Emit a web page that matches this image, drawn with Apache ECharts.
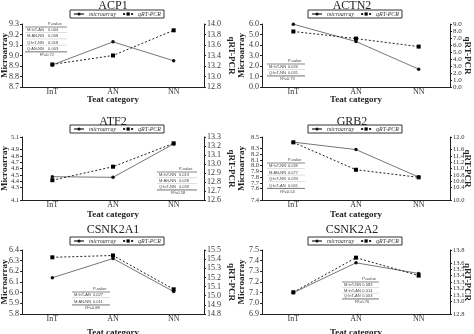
<!DOCTYPE html>
<html>
<head>
<meta charset="utf-8">
<script src="https://cdn.jsdelivr.net/npm/echarts@6/dist/echarts.min.js"></script>
<style>
  html, body { margin: 0; padding: 0; background: #fff; }
  #chart { width: 474px; height: 334px; }
</style>
</head>
<body>
<div id="chart"></div>
<script>
// Teat categories along the x axis
const categories = ['InT', 'AN', 'NN'];

// Expression values: microarray (left axis) and qRT-PCR (right axis)
const acp1Micro = [8.91, 9.13, 8.95];
const acp1Qpcr = [13.23, 13.40, 13.88];
const actn2Micro = [5.98, 4.33, 1.70];
const actn2Qpcr = [7.93, 6.92, 5.77];
const atf2Micro = [4.47, 4.46, 4.99];
const atf2Qpcr = [12.82, 12.97, 13.23];
const grb2Micro = [8.41, 8.28, 7.80];
const grb2Qpcr = [11.83, 10.96, 10.72];
const csnk2a1Micro = [6.14, 6.32, 6.01];
const csnk2a1Qpcr = [15.42, 15.44, 15.07];
const csnk2a2Micro = [7.10, 7.38, 7.28];
const csnk2a2Qpcr = [13.14, 13.68, 13.40];

// Axis ticks: [min, max, step]
const acp1LeftTicks = [8.7, 9.3, 0.1];
const acp1RightTicks = [12.8, 14.0, 0.2];
const actn2LeftTicks = [0, 6, 1];
const actn2RightTicks = [0, 9, 1];
const atf2LeftTicks = [4.1, 5.1, 0.1];
const atf2RightTicks = [12.6, 13.3, 0.1];
const grb2LeftTicks = [7.4, 8.5, 0.1];
const grb2RightTicks = [10.0, 12.0, 0.2];
const csnk2a1LeftTicks = [5.8, 6.4, 0.1];
const csnk2a1RightTicks = [14.8, 15.5, 0.1];
const csnk2a2LeftTicks = [6.9, 7.5, 0.1];
const csnk2a2RightTicks = [12.8, 13.8, 0.1];

// Pairwise test P-values and correlation for each gene
const acp1Stats = [['M:InT-AN', '0.004'], ['M:AN-NN', '0.008'], ['Q:InT-NN', '0.018'], ['Q:AN-NN', '0.003']];
const actn2Stats = [['M:InT-NN', '0.020'], ['Q:InT-NN', '0.031']];
const atf2Stats = [['M:InT-NN', '0.013'], ['M:AN-NN', '0.028'], ['Q:InT-NN', '0.033']];
const grb2Stats = [['M:InT-NN', '0.039'], ['M:AN-NN', '0.077'], ['Q:InT-NN', '0.033'], ['Q:InT-AN', '0.061']];
const csnk2a1Stats = [['M:InT-AN', '0.027'], ['M:AN-NN', '0.011']];
const csnk2a2Stats = [['M:InT-NN', '0.083'], ['M:InT-AN', '0.014'], ['Q:InT-AN', '0.003']];
const r2Labels = ['R²=0.72', 'R²=0.73', 'R²=0.58', 'R²=0.54', 'R²=0.88', 'R²=0.76'];

const genes = ['ACP1', 'ACTN2', 'ATF2', 'GRB2', 'CSNK2A1', 'CSNK2A2'];
const microSets = [acp1Micro, actn2Micro, atf2Micro, grb2Micro, csnk2a1Micro, csnk2a2Micro];
const qpcrSets = [acp1Qpcr, actn2Qpcr, atf2Qpcr, grb2Qpcr, csnk2a1Qpcr, csnk2a2Qpcr];
const leftTickSets = [acp1LeftTicks, actn2LeftTicks, atf2LeftTicks, grb2LeftTicks, csnk2a1LeftTicks, csnk2a2LeftTicks];
const rightTickSets = [acp1RightTicks, actn2RightTicks, atf2RightTicks, grb2RightTicks, csnk2a1RightTicks, csnk2a2RightTicks];
const statSets = [acp1Stats, actn2Stats, atf2Stats, grb2Stats, csnk2a1Stats, csnk2a2Stats];

// ---- layout ----
const SERIF = '"Liberation Serif", "DejaVu Serif", serif';
const colLayout = [
  { left: 22, width: 182, titleX: 113, legendX: 70, yNameGap: 13, rNameGap: 23 },
  { left: 262, width: 188, titleX: 352, legendX: 308, yNameGap: 16, rNameGap: 13 }
];
const rowLayout = [
  { top: 24, height: 63, titleTop: 0, legendTop: 10, xNameGap: 8 },
  { top: 137, height: 63, titleTop: 116, legendTop: 125, xNameGap: 10 },
  { top: 250, height: 64, titleTop: 224, legendTop: 237, xNameGap: 14 }
];
// inset table anchors: [x, headerY, width, rowStep]
const tableAnchors = [
  [25, 24, 42, 6.3],
  [267, 61, 38, 6],
  [157, 169, 40, 6],
  [267, 160, 38, 6.5],
  [72, 289, 38, 7],
  [342, 279, 37, 5.5]
];

const grids = [], xAxes = [], yAxes = [], series = [], titles = [], legends = [], graphics = [];
const fmt1 = v => Number(v).toFixed(1);

function valueAxis(i, ticks, pos, name, gap, rotate) {
  const steps = Math.round((ticks[1] - ticks[0]) / ticks[2]);
  const ax = {
    type: 'value', gridIndex: i, position: pos,
    min: ticks[0], max: ticks[1], interval: ticks[2],
    name: name, nameLocation: 'middle', nameGap: gap, nameMoveOverlap: false,
    nameTextStyle: { fontFamily: SERIF, fontSize: 9, fontWeight: 'bold', color: '#222' },
    axisLine: { show: true, lineStyle: { color: '#222', width: 1 } },
    axisTick: { show: true, length: 2, lineStyle: { color: '#222' } },
    axisLabel: {
      fontFamily: SERIF, fontSize: steps > 9 ? 6.5 : (steps > 7 ? 7 : 8), color: '#333', margin: 3,
      interval: 0, formatter: fmt1, showMinLabel: true, showMaxLabel: true, hideOverlap: false
    },
    splitLine: { show: false }
  };
  if (rotate !== undefined) ax.nameRotate = rotate;
  return ax;
}

genes.forEach((gene, i) => {
  const col = colLayout[i % 2];
  const row = rowLayout[Math.floor(i / 2)];
  grids.push({
    left: col.left, top: row.top, width: col.width, height: row.height,
    containLabel: false, outerBoundsMode: 'none'
  });

  titles.push({
    text: gene, left: col.titleX, top: row.titleTop, textAlign: 'center', padding: 0,
    textStyle: { fontFamily: SERIF, fontSize: 12, fontWeight: 'normal', color: '#222' }
  });

  legends.push({
    data: ['microarray', 'qRT-PCR'], left: col.legendX, top: row.legendTop,
    borderColor: '#333', borderWidth: 1, padding: [1, 3], itemGap: 6,
    itemWidth: 10, itemHeight: 4, selectedMode: false,
    textStyle: { fontFamily: SERIF, fontSize: 6, fontStyle: 'italic', color: '#333' }
  });

  xAxes.push({
    type: 'category', gridIndex: i, data: categories,
    name: 'Teat category', nameLocation: 'middle', nameGap: row.xNameGap, nameMoveOverlap: false,
    nameTextStyle: { fontFamily: SERIF, fontSize: 9, fontWeight: 'bold', color: '#222' },
    axisLine: { lineStyle: { color: '#222', width: 1 } },
    axisTick: { show: false },
    axisLabel: { fontFamily: SERIF, fontSize: 8, color: '#333', margin: 1 }
  });

  yAxes.push(valueAxis(i, leftTickSets[i], 'left', 'Microarray', col.yNameGap));
  yAxes.push(valueAxis(i, rightTickSets[i], 'right', 'qRT-PCR', col.rNameGap, -90));

  series.push({
    type: 'line', name: 'microarray', xAxisIndex: i, yAxisIndex: 2 * i,
    data: microSets[i], symbol: 'circle', symbolSize: 3.5,
    lineStyle: { color: '#777', width: 1 }, itemStyle: { color: '#111' },
    emphasis: { disabled: true }, animation: false
  });
  series.push({
    type: 'line', name: 'qRT-PCR', xAxisIndex: i, yAxisIndex: 2 * i + 1,
    data: qpcrSets[i], symbol: 'rect', symbolSize: 4,
    lineStyle: { color: '#222', width: 1, type: [2, 2] }, itemStyle: { color: '#000' },
    emphasis: { disabled: true }, animation: false
  });

  // inset table of P-values
  const [tx, ty, tw, step] = tableAnchors[i];
  const stats = statSets[i];
  const tStyle = { fontFamily: 'Liberation Sans, sans-serif', fontSize: 4, fill: '#444' };
  graphics.push({ type: 'text', left: tx + tw * 0.55, top: ty - 2,
    style: Object.assign({ text: 'P-value' }, tStyle) });
  graphics.push({ type: 'line', shape: { x1: tx, y1: ty + 3, x2: tx + tw, y2: ty + 3 },
    style: { stroke: '#555', lineWidth: 0.7 } });
  stats.forEach((s, k) => {
    const y = ty + 6 + k * step;
    graphics.push({ type: 'text', left: tx + 2, top: y - 2,
      style: Object.assign({ text: s[0] }, tStyle) });
    graphics.push({ type: 'text', left: tx + tw * 0.55, top: y - 2,
      style: Object.assign({ text: s[1] }, tStyle) });
    graphics.push({ type: 'line', shape: { x1: tx, y1: y + 2.6, x2: tx + tw, y2: y + 2.6 },
      style: { stroke: '#bbb', lineWidth: 0.5 } });
  });
  const yb = ty + 6 + (stats.length - 1) * step + 3;
  graphics.push({ type: 'line', shape: { x1: tx, y1: yb, x2: tx + tw, y2: yb },
    style: { stroke: '#555', lineWidth: 0.7 } });
  graphics.push({ type: 'text', left: tx + tw * 0.35, top: yb + 1,
    style: Object.assign({ text: r2Labels[i] }, tStyle) });
});

const chart = echarts.init(document.getElementById('chart'), null, { renderer: 'canvas' });
chart.setOption({
  backgroundColor: '#fff',
  animation: false,
  title: titles,
  legend: legends,
  grid: grids,
  xAxis: xAxes,
  yAxis: yAxes,
  series: series,
  graphic: graphics
});
</script>
</body>
</html>
